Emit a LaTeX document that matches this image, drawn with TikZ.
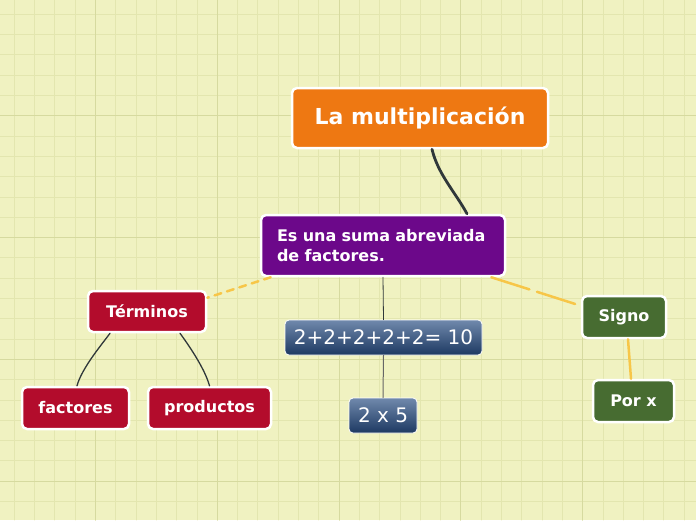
\documentclass[tikz,border=0pt]{standalone}
\usepackage{fontspec}
\setmainfont{DejaVu Sans}
\usepackage[usenames]{xcolor}
\usepackage{tikz}
\usetikzlibrary{arrows}
\definecolor{paper}{HTML}{F0F2C1}
\definecolor{gridminor}{HTML}{E3E6AF}
\definecolor{gridmajor}{HTML}{D6DA9F}
\definecolor{topicorange}{HTML}{EE7812}
\definecolor{topicpurple}{HTML}{6C088A}
\definecolor{topicred}{HTML}{B30C2C}
\definecolor{topicgreen}{HTML}{476C31}
\definecolor{calctop}{HTML}{7089AC}
\definecolor{calcbottom}{HTML}{1D3962}
\definecolor{linkyellow}{HTML}{F7C648}
\definecolor{linkdark}{HTML}{30383A}

\begin{document}
\begin{tikzpicture}[line cap=round,line join=round,x=1pt,y=-1pt,
  topic/.style={draw=white,line width=2.5pt,rounded corners=5pt,text=white,
    font=\bfseries\fontsize{16}{20}\selectfont,inner sep=0pt,align=center},
  calcbox/.style={draw=white,line width=0.8pt,rounded corners=4pt,text=white,
    top color=calctop,bottom color=calcbottom,
    font=\fontsize{20}{24}\selectfont,inner sep=0pt},
  darklink/.style={draw=linkdark,line width=1.3pt},
  yellowlink/.style={draw=linkyellow,line width=2.5pt}]
\useasboundingbox (0,0) rectangle (696,520);
\fill[paper] (0,0) rectangle (696,520);
% grid
\foreach \i in {0,...,33}
  \draw[gridminor,line width=0.8pt] (14.2+20.3*\i,0) -- (14.2+20.3*\i,520);
\foreach \j in {0,...,25}
  \draw[gridminor,line width=0.8pt] (0,14.2+20.3*\j) -- (696,14.2+20.3*\j);
\foreach \i in {0,...,4}
  \draw[gridmajor,line width=1pt] (95.4+121.8*\i,0) -- (95.4+121.8*\i,520);
\foreach \j in {0,...,3}
  \draw[gridmajor,line width=1pt] (0,115.7+121.8*\j) -- (696,115.7+121.8*\j);

% topics
\node[topic,fill=topicorange,minimum width=256pt,minimum height=60pt,
  font=\bfseries\fontsize{22}{26}\selectfont] (main) at (420,118) {La multiplicación};
\node[topic,fill=topicpurple,text width=212pt,inner xsep=16pt,minimum height=61pt,
  align=left] (suma) at (383,245.5) {Es una suma abreviada\\de factores.};
\node[topic,fill=topicred,minimum width=118pt,minimum height=41pt] (terminos) at (147,311.5) {Términos};
\node[topic,fill=topicred,minimum width=107pt,minimum height=42pt] (factores) at (75.5,408) {factores};
\node[topic,fill=topicred,minimum width=123pt,minimum height=42pt] (productos) at (209.5,408) {productos};
\node[calcbox,minimum width=197pt,minimum height=35pt] (suma2) at (383.5,337.5) {2+2+2+2+2= 10};
\node[calcbox,minimum width=68pt,minimum height=35pt] (dos5) at (383,415.5) {2 x 5};
\node[topic,fill=topicgreen,minimum width=84pt,minimum height=42pt] (signo) at (624,317) {Signo};
\node[topic,fill=topicgreen,minimum width=81pt,minimum height=42pt] (porx) at (633.5,401) {Por x};

% links
\draw[darklink,line width=2.8pt] ([xshift=12pt]main.south) .. controls +(6,25) and +(-12,-22) .. ([xshift=84pt]suma.north);
\draw[darklink,line width=0.8pt] (suma.south) -- (suma2.north);
\draw[darklink,draw=gray!80!black,line width=1pt] (suma2.south) -- (dos5.north);
\draw[yellowlink,dash pattern=on 7pt off 6pt] ([xshift=11pt]suma.south west) -- ([yshift=-8pt]terminos.north east);
\draw[yellowlink,dash pattern=on 40pt off 8pt] ([xshift=-15pt]suma.south east) -- ([yshift=-11pt]signo.north west);
\draw[darklink] ([xshift=-37pt]terminos.south) .. controls +(-8,11) and +(5,-18) .. ([xshift=1.5pt]factores.north);
\draw[darklink] ([xshift=33pt]terminos.south) .. controls +(8,11) and +(-5,-18) .. (productos.north);
\draw[yellowlink] ([xshift=4pt]signo.south) -- ([xshift=-2.5pt]porx.north);
\end{tikzpicture}
\end{document}
